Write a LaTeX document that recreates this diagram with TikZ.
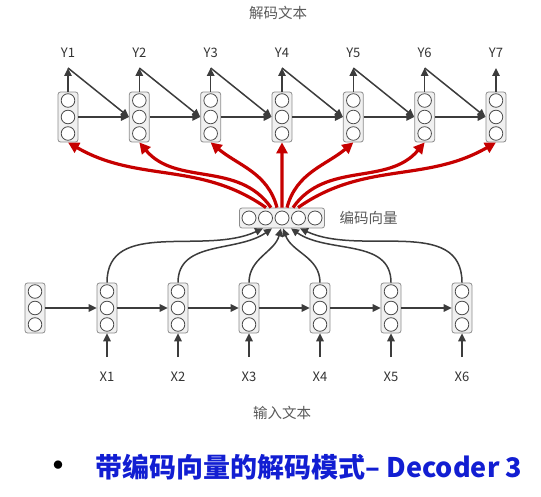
\documentclass[tikz,border=0pt]{standalone}
\usepackage{fontspec}
\newfontfamily\cjk{Noto Sans CJK SC}
\usetikzlibrary{arrows.meta}
\definecolor{titleblue}{RGB}{18,30,210}
\definecolor{feedred}{RGB}{198,0,0}
\definecolor{wiregray}{RGB}{60,60,60}
\begin{document}
\begin{tikzpicture}[x=1pt, y=1pt,
    cell/.style={draw=gray!90, line width=0.8pt, rounded corners=2.5pt, fill=gray!12, minimum width=20pt,
      minimum height=50pt, inner sep=0pt,
      path picture={\foreach \k in {-1,0,1}
        \draw[gray!60!black, fill=white] ([yshift=\k*16.5pt]path picture bounding box.center) circle (6.8pt);}},
    vecbox/.style={draw=gray!90, line width=0.8pt, rounded corners=2.5pt, fill=gray!12, minimum width=85pt,
      minimum height=20pt, inner sep=0pt,
      path picture={\foreach \k in {-2,...,2}
        \draw[gray!60!black, fill=white] ([xshift=\k*16.5pt]path picture bounding box.center) circle (7pt);}},
    wire/.style={draw=wiregray, line width=1.5pt, -{Triangle[length=8pt,width=7.5pt]}},
    feed/.style={draw=feedred, line width=3.2pt, -{Triangle[length=11pt,width=11pt]}},
    lbl/.style={font=\cjk\fontsize{13}{13}\selectfont, text=black!80},
    caption/.style={font=\cjk\fontsize{14.5}{15}\selectfont, text=black!65}]
  \useasboundingbox (0,0) rectangle (541,496);

  % decoder
  \foreach \i in {1,...,7} {
    \node[cell] (d\i) at ({68+71.33*(\i-1)},379) {};
    \coordinate (t\i) at ({68+71.33*(\i-1)},428);
    \node[lbl] (y\i) at ({68+71.33*(\i-1)},443) {Y\i};
    \draw[wire] (d\i.north) -- (t\i);
  }
  \foreach \i [count=\j from 2] in {1,...,6} {
    \draw[wire] (d\i.east) -- (d\j.west);
    \draw[wire] (t\i) -- (d\j.west);
  }
  \node[caption] (outtext) at (278,483) {解码文本};

  % encoder
  \node[cell] (e0) at (35,188) {};
  \foreach \i in {1,...,6} {
    \node[cell] (e\i) at ({107+71*(\i-1)},188) {};
    \node[lbl] (x\i) at ({107+71*(\i-1)},119) {X\i};
    \coordinate (s\i) at ({107+71*(\i-1)},139);
    \draw[wire] (s\i) -- (e\i.south);
  }
  \foreach \i [count=\j from 1] in {0,...,5}
    \draw[wire] (e\i.east) -- (e\j.west);
  \node[caption] (intext) at (282,83) {输入文本};

  % context vector
  \node[vecbox] (vec) at (282,278) {};
  \node[caption, anchor=west] (veclbl) at (336,278) {编码向量};
  \foreach \i/\dx/\n in {1/-19/-155, 2/-10/-145, 3/-1/-105, 4/1/-70, 5/9/-35, 6/18/-25}
    \draw[wire] (e\i.north) to[out=90, in=\n] ([xshift=\dx pt]vec.south);
  \foreach \i/\dx/\o/\n in {1/-16/145/-30, 2/-11/125/-50, 3/-5/105/-40, 4/0/90/-90,
      5/5/75/-140, 6/11/55/-130, 7/16/35/-150}
    \draw[feed] ([xshift=\dx pt]vec.north) to[out=\o, in=\n] (d\i.south);

  % title
  \node[font=\cjk\bfseries\fontsize{30}{30}\selectfont] (dot) at (58,27) {•};
  \node[anchor=west, font=\cjk\bfseries\fontsize{27}{28}\selectfont, text=titleblue] (title)
    at (92,29) {带编码向量的解码模式– Decoder 3};
\end{tikzpicture}
\end{document}
